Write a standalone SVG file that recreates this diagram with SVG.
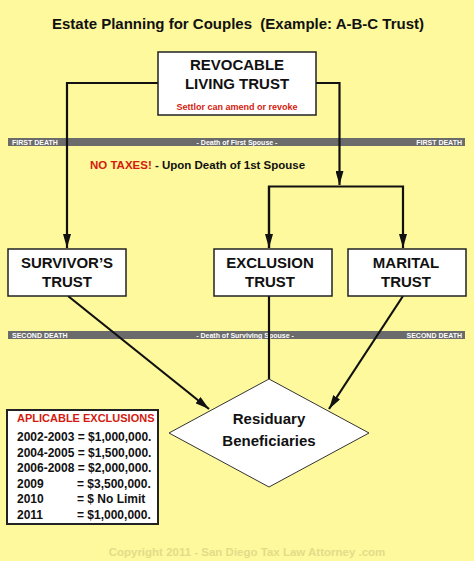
<svg xmlns="http://www.w3.org/2000/svg" width="474" height="561" viewBox="0 0 474 561">
<style>
text{font-family:"Liberation Sans",Arial,sans-serif;font-weight:bold}
.box{fill:#fff;stroke:#222;stroke-width:1.5}
.ln{fill:none;stroke:#111;stroke-width:2.2}
.band{fill:#6b6b6b}
.bt{fill:#fff;font-size:7px}
.big{font-size:15px;fill:#111;text-anchor:middle}
.ex{font-size:12px;fill:#111}
</style>
<defs>
<marker id="ah" viewBox="0 0 14 8" refX="14" refY="4" markerWidth="14" markerHeight="8" markerUnits="userSpaceOnUse" orient="auto">
<path d="M0,0 L14,4 L0,8 Z" fill="#111"/>
</marker>
</defs>
<rect width="474" height="561" fill="#fdf99c"/>
<text x="238" y="29" text-anchor="middle" font-size="15" fill="#111">Estate Planning for Couples&#160; (Example: A-B-C Trust)</text>

<g id="bands">
<rect class="band" x="8" y="138" width="457" height="8"/>
<text class="bt" x="12" y="144.5">FIRST DEATH</text>
<text class="bt" x="237" y="144.5" text-anchor="middle">- Death of First Spouse -</text>
<text class="bt" x="462" y="144.5" text-anchor="end">FIRST DEATH</text>
<rect class="band" x="8" y="331" width="457" height="8"/>
<text class="bt" x="12" y="337.5">SECOND DEATH</text>
<text class="bt" x="245" y="337.5" text-anchor="middle">- Death of Surviving Spouse -</text>
<text class="bt" x="462" y="337.5" text-anchor="end">SECOND DEATH</text>
</g>

<g id="connectors">
<polyline class="ln" points="158,83 67,83 67,248" marker-end="url(#ah)"/>
<polyline class="ln" points="316,83 339.5,83 339.5,185" marker-end="url(#ah)"/>
<polyline class="ln" points="269,248 269,186.5 403,186.5 403,248" marker-end="url(#ah)"/>
<line class="ln" x1="269" y1="186.5" x2="269" y2="248" marker-end="url(#ah)"/>
<line class="ln" x1="68" y1="296" x2="209" y2="409" marker-end="url(#ah)"/>
<line class="ln" x1="269" y1="296" x2="269" y2="379"/>
<line class="ln" x1="403" y1="296" x2="329" y2="409" marker-end="url(#ah)"/>
</g>

<text x="90" y="169" font-size="11.5" fill="#d41a10">NO TAXES! <tspan fill="#111">- Upon Death of 1st Spouse</tspan></text>

<g id="revocable">
<rect class="box" x="158" y="52" width="158" height="63"/>
<text class="big" x="237" y="70" font-size="14">REVOCABLE</text>
<text class="big" x="237" y="89" font-size="14">LIVING TRUST</text>
<text x="237" y="110" text-anchor="middle" font-size="9" fill="#d41a10">Settlor can amend or revoke</text>
</g>
<g id="survivors">
<rect class="box" x="8" y="249" width="118" height="47"/>
<text class="big" x="67" y="268">SURVIVOR’S</text>
<text class="big" x="67" y="287">TRUST</text>
</g>
<g id="exclusion">
<rect class="box" x="214" y="249" width="118" height="47"/>
<text class="big" x="270" y="268">EXCLUSION</text>
<text class="big" x="270" y="287">TRUST</text>
</g>
<g id="marital">
<rect class="box" x="348" y="249" width="118" height="47"/>
<text class="big" x="406" y="268">MARITAL</text>
<text class="big" x="406" y="287">TRUST</text>
</g>
<g id="residuary">
<polygon points="269,379 369,433 269,487 169,433" fill="#fff" stroke="#333" stroke-width="1"/>
<text class="big" x="269" y="424">Residuary</text>
<text class="big" x="269" y="446">Beneficiaries</text>
</g>
<g id="exclusions">
<rect x="7" y="410" width="151" height="114" fill="#fff" stroke="#222" stroke-width="2"/>
<text x="17" y="422" font-size="11" fill="#d41a10">APLICABLE EXCLUSIONS</text>
<text class="ex" x="17" y="441">2002-2003 = $1,000,000.</text>
<text class="ex" x="17" y="457">2004-2005 = $1,500,000.</text>
<text class="ex" x="17" y="472">2006-2008 = $2,000,000.</text>
<text class="ex" x="17" y="488">2009</text><text class="ex" x="77" y="488">= $3,500,000.</text>
<text class="ex" x="17" y="503">2010</text><text class="ex" x="77" y="503">= $ No Limit</text>
<text class="ex" x="17" y="519">2011</text><text class="ex" x="77" y="519">= $1,000,000.</text>
</g>
<text x="247" y="556" text-anchor="middle" font-size="11.5" fill="#e4dc8a">Copyright 2011 - San Diego Tax Law Attorney .com</text>
</svg>
